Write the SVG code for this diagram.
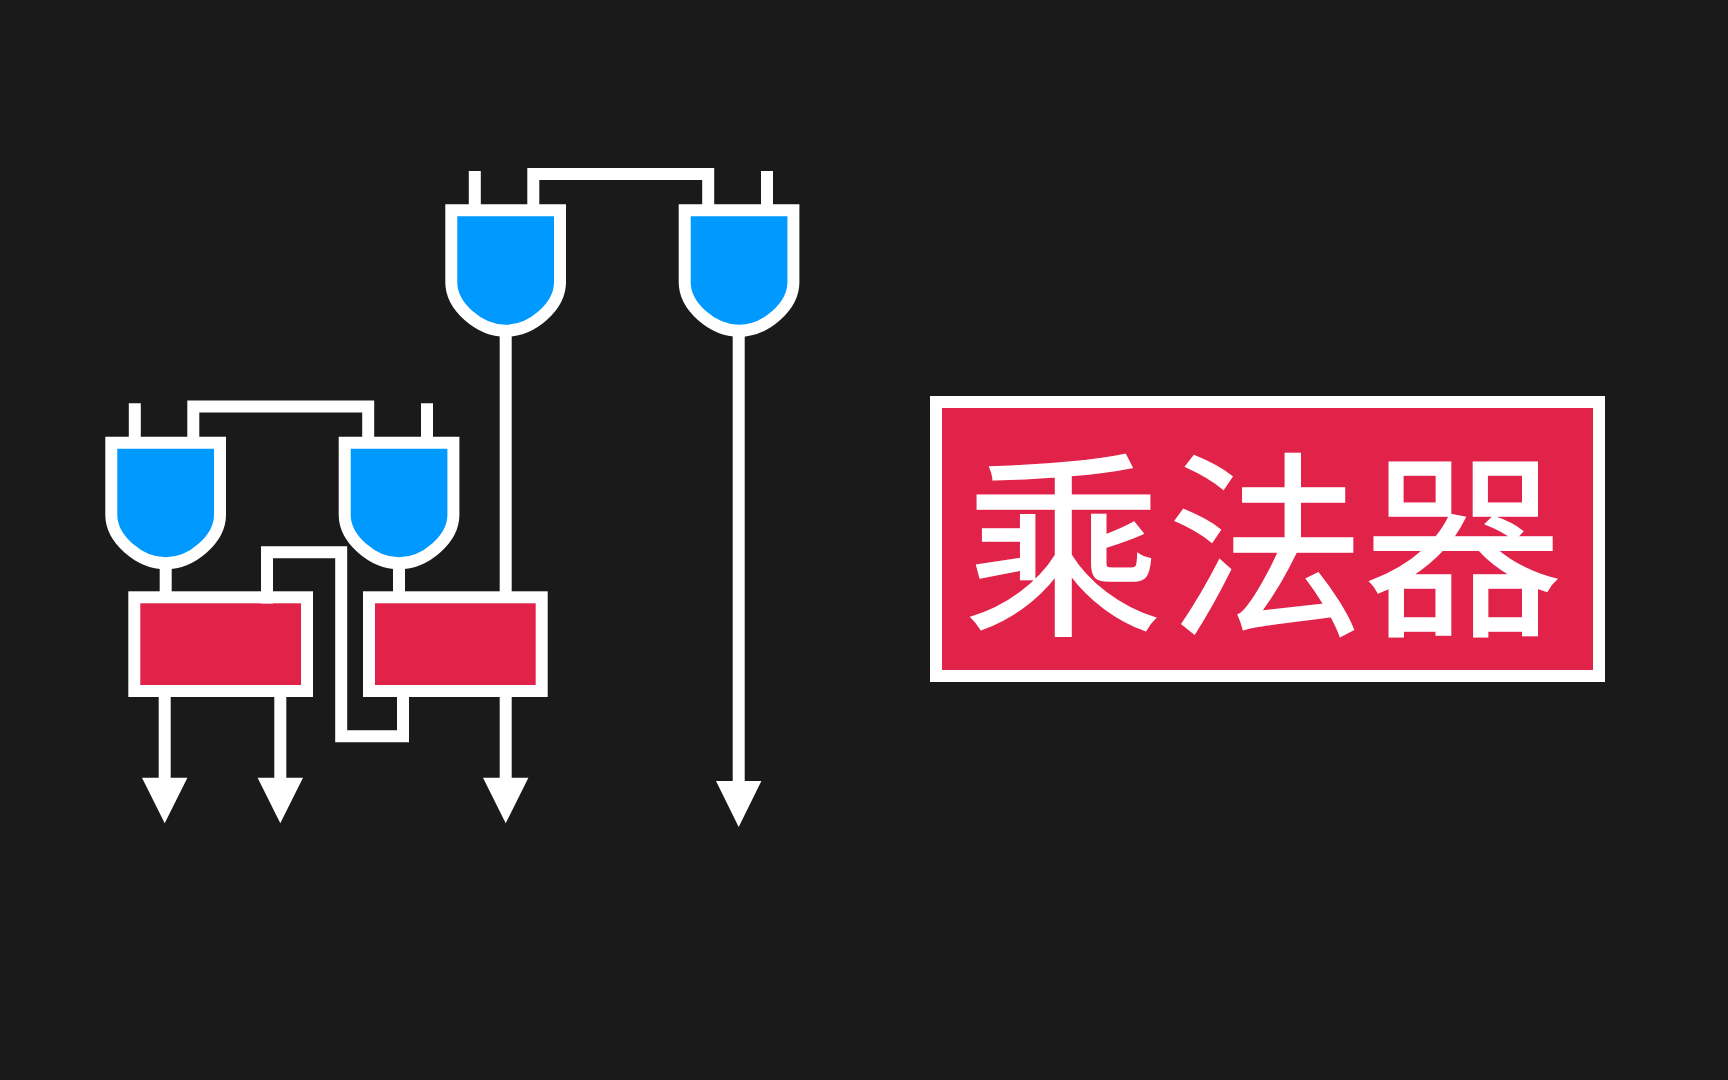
<svg xmlns="http://www.w3.org/2000/svg" width="1728" height="1080" viewBox="0 0 1728 1080">
<style>
.w{fill:none;stroke:#fff;stroke-width:12;stroke-linejoin:miter}
.g{fill:#0099ff;stroke:#fff;stroke-width:12}
.r{fill:#e1234a;stroke:#fff;stroke-width:12}
.h{fill:#fff}
.t{font-family:"Noto Sans CJK SC","Noto Sans CJK JP",sans-serif;font-size:198px;fill:#fff;stroke:#fff;stroke-width:1.5;font-weight:400}
</style>
<defs>
<path id="gate" d="M0 0H108.7V72C108.7 96 81 120.5 54.35 120.5C27.7 120.5 0 96 0 72Z"/>
</defs>
<rect width="1728" height="1080" fill="#1a1a1a"/>
<g id="connectors">
<path class="w" d="M134.8 403.3V437M193.3 437V406.5H368.2V437M427 403.3V437"/>
<path class="w" d="M474.8 171V205M533.3 205V174H708.2V205M767 171V205"/>
<path class="w" d="M165.7 563V592M399 563V592"/>
<path class="w" d="M505.7 331V592M738.7 331V785"/>
<path class="w" d="M267 603.5V552.3H341.2V736.3H403V696"/>
<path class="w" d="M164.7 696V779M280.3 696V779M505.7 696V779"/>
<path class="h" d="M142 777.7H187.4L164.7 823.3ZM257.6 777.7H303L280.3 823.3ZM483 777.7H528.4L505.7 823.3ZM716 781H761.4L738.7 827Z"/>
</g>
<g id="gate-1"><use href="#gate" class="g" x="111.3" y="442.8"/></g>
<g id="gate-2"><use href="#gate" class="g" x="344.7" y="442.8"/></g>
<g id="gate-3"><use href="#gate" class="g" x="451.3" y="210.3"/></g>
<g id="gate-4"><use href="#gate" class="g" x="684.7" y="210.3"/></g>
<g id="adder-1"><rect class="r" x="134.3" y="597.3" width="172.7" height="93.7"/></g>
<g id="adder-2"><rect class="r" x="369" y="597.3" width="172.7" height="93.7"/></g>
<path class="w" d="M267 591V603.5"/>
<g id="label">
<rect class="r" x="936" y="402" width="663" height="274"/>
<text class="t" x="964.5 1167 1364" y="619.5">乘法器</text>
</g>
</svg>
